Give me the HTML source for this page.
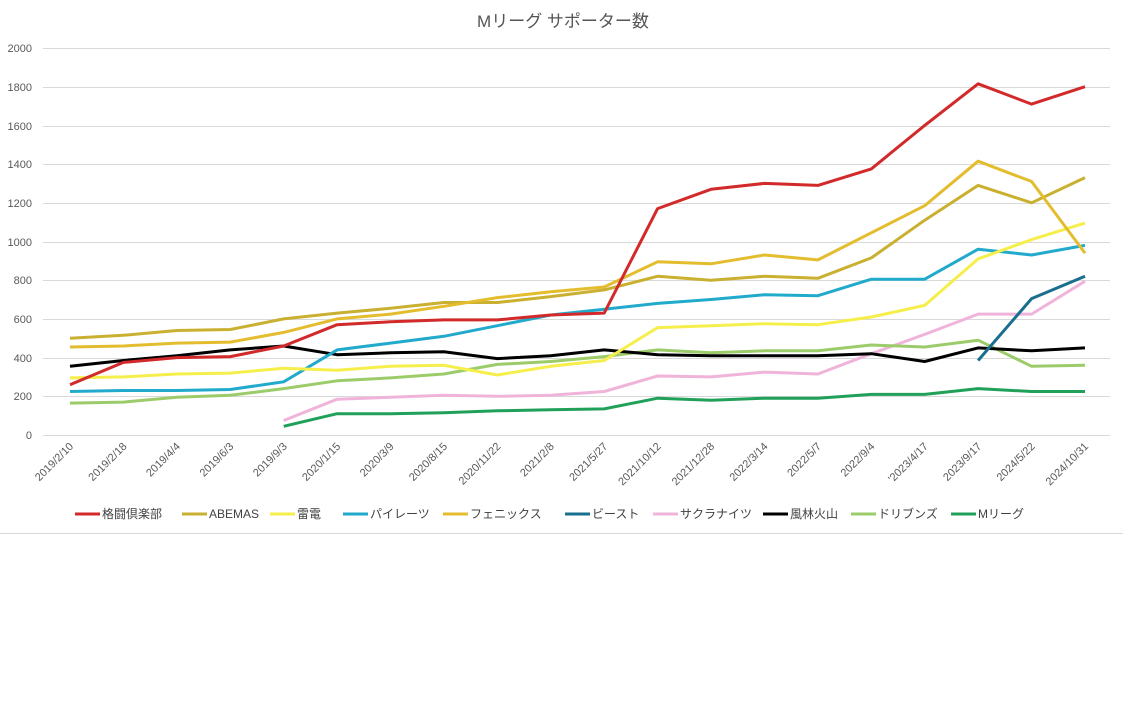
<!DOCTYPE html>
<html><head><meta charset="utf-8"><style>
body{margin:0;background:#fff;width:1123px;height:714px;overflow:hidden;font-family:"Liberation Sans","Noto Sans CJK JP",sans-serif}
</style></head><body>
<svg id="s" width="1123" height="714" xmlns="http://www.w3.org/2000/svg" font-family="Liberation Sans, Noto Sans CJK JP, sans-serif">
<text x="563" y="27" text-anchor="middle" font-size="17" fill="#555">Mリーグ サポーター数</text>
<g font-size="11" fill="#595959" text-anchor="end">
<text x="32" y="52">2000</text><text x="32" y="91">1800</text><text x="32" y="130">1600</text><text x="32" y="168">1400</text><text x="32" y="207">1200</text><text x="32" y="246">1000</text><text x="32" y="284">800</text><text x="32" y="323">600</text><text x="32" y="362">400</text><text x="32" y="400">200</text><text x="32" y="439">0</text>
</g>
<g stroke="#d9d9d9" stroke-width="1">
<line x1="43" x2="1110" y1="48.5" y2="48.5"/><line x1="43" x2="1110" y1="87.5" y2="87.5"/><line x1="43" x2="1110" y1="126.5" y2="126.5"/><line x1="43" x2="1110" y1="164.5" y2="164.5"/><line x1="43" x2="1110" y1="203.5" y2="203.5"/><line x1="43" x2="1110" y1="242.5" y2="242.5"/><line x1="43" x2="1110" y1="280.5" y2="280.5"/><line x1="43" x2="1110" y1="319.5" y2="319.5"/><line x1="43" x2="1110" y1="358.5" y2="358.5"/><line x1="43" x2="1110" y1="396.5" y2="396.5"/><line x1="43" x2="1110" y1="435.5" y2="435.5"/>
<line x1="0" x2="1123" y1="533.5" y2="533.5"/>
</g>
<g id="xl" font-size="11" fill="#595959" text-anchor="end"></g>
<g id="ln" fill="none" stroke-width="3" stroke-linejoin="round"></g>
<g font-size="12" fill="#404040">
<line x1="75" x2="100" y1="514" y2="514" stroke="#d22a2a" stroke-width="3"/><text x="102" y="518">格闘倶楽部</text>
<line x1="182" x2="207" y1="514" y2="514" stroke="#c9b031" stroke-width="3"/><text x="209" y="518">ABEMAS</text>
<line x1="270" x2="295" y1="514" y2="514" stroke="#f6ee4a" stroke-width="3"/><text x="297" y="518">雷電</text>
<line x1="343" x2="368" y1="514" y2="514" stroke="#22aacc" stroke-width="3"/><text x="370" y="518">パイレーツ</text>
<line x1="443" x2="468" y1="514" y2="514" stroke="#e4bd2e" stroke-width="3"/><text x="470" y="518">フェニックス</text>
<line x1="565" x2="590" y1="514" y2="514" stroke="#1a6e8e" stroke-width="3"/><text x="592" y="518">ビースト</text>
<line x1="653" x2="678" y1="514" y2="514" stroke="#f0b4da" stroke-width="3"/><text x="680" y="518">サクラナイツ</text>
<line x1="763" x2="788" y1="514" y2="514" stroke="#000" stroke-width="3"/><text x="790" y="518">風林火山</text>
<line x1="851" x2="876" y1="514" y2="514" stroke="#9ccc6a" stroke-width="3"/><text x="878" y="518">ドリブンズ</text>
<line x1="951" x2="976" y1="514" y2="514" stroke="#21a05a" stroke-width="3"/><text x="978" y="518">Mリーグ</text>
</g>
</svg>
<script>
var L=["2019/2/10","2019/2/18","2019/4/4","2019/6/3","2019/9/3","2020/1/15","2020/3/9","2020/8/15","2020/11/22","2021/2/8","2021/5/27","2021/10/12","2021/12/28","2022/3/14","2022/5/7","2022/9/4","'2023/4/17","2023/9/17","2024/5/22","2024/10/31"];
var NS="http://www.w3.org/2000/svg";
function X(i){return 70+53.42*i}function Y(v){return 435-v*0.1935}
var xl=document.getElementById("xl");
L.forEach(function(t,i){var e=document.createElementNS(NS,"text");var x=X(i)+4,y=447;e.setAttribute("x",x);e.setAttribute("y",y);e.setAttribute("transform","rotate(-45 "+x+" "+y+")");e.textContent=t;xl.appendChild(e)});
var S=[
["#d22a2a",0,[260,375,400,405,460,570,585,595,595,620,630,1170,1270,1300,1290,1375,1600,1815,1710,1800]],
["#c9b031",0,[500,515,540,545,600,630,655,685,685,715,750,820,800,820,810,915,1110,1290,1200,1330]],
["#e4bd2e",0,[455,460,475,480,530,600,625,665,710,740,765,895,885,930,905,1045,1185,1415,1310,940]],
["#f6ee4a",0,[295,300,315,320,345,335,355,360,310,355,385,555,565,575,570,610,670,910,1010,1095]],
["#22aacc",0,[225,230,230,235,275,440,475,510,565,620,650,680,700,725,720,805,805,960,930,980]],
["#1a6e8e",17,[385,705,820]],
["#f0b4da",4,[75,185,195,205,200,205,225,305,300,325,315,420,520,625,625,795]],
["#000000",0,[355,385,410,440,460,415,425,430,395,410,440,415,410,410,410,420,380,450,435,450]],
["#9ccc6a",0,[165,170,195,205,240,280,295,315,365,380,405,440,425,435,435,465,455,490,355,360]],
["#21a05a",4,[45,110,110,115,125,130,135,190,180,190,190,210,210,240,225,225]]];
var g=document.getElementById("ln");
[6,9,8,7,5,4,3,1,2,0].forEach(function(k){var s=S[k];var p=s[2].map(function(v,j){return X(s[1]+j).toFixed(1)+","+Y(v).toFixed(1)}).join(" ");var e=document.createElementNS(NS,"polyline");e.setAttribute("points",p);e.setAttribute("stroke",s[0]);g.appendChild(e)});
</script>
</body></html>
